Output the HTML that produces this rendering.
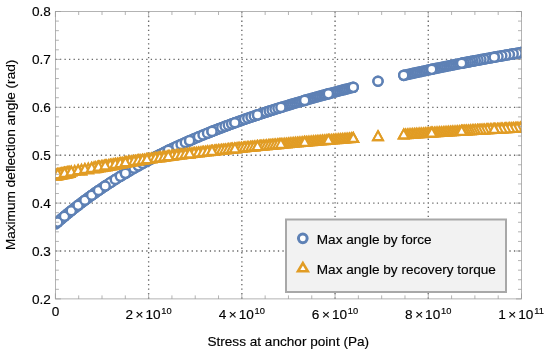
<!DOCTYPE html>
<html><head><meta charset="utf-8"><title>Maximum deflection angle vs stress</title>
<style>
html,body{margin:0;padding:0;background:#fff}
svg{display:block}
text{font-family:"Liberation Sans",Arial,Helvetica,sans-serif;font-size:13.6px;fill:#000;stroke:#000;stroke-width:0.15px}
</style></head>
<body>
<svg width="550" height="354" viewBox="0 0 550 354">
<rect width="550" height="354" fill="#fff"/>
<defs><clipPath id="c"><rect x="55.4" y="11.5" width="466.1" height="287.4"/></clipPath></defs>
<path d="M148.62 11.5V298.9M241.84 11.5V298.9M335.06 11.5V298.9M428.28 11.5V298.9M55.4 251.00H521.5M55.4 203.10H521.5M55.4 155.20H521.5M55.4 107.30H521.5M55.4 59.40H521.5" fill="none" stroke="#686868" stroke-width="1.35" stroke-dasharray="1.3 3.24"/>
<g clip-path="url(#c)">
<g fill="#fff" stroke="#5e81b5" stroke-width="2.45"><circle cx="55.40" cy="224.06" r="4.55"/><circle cx="57.20" cy="222.48" r="4.55"/><circle cx="59.00" cy="220.93" r="4.55"/><circle cx="60.80" cy="219.39" r="4.55"/><circle cx="62.60" cy="217.86" r="4.55"/><circle cx="64.40" cy="216.36" r="4.55"/><circle cx="66.20" cy="214.86" r="4.55"/><circle cx="68.00" cy="213.39" r="4.55"/><circle cx="69.80" cy="211.92" r="4.55"/><circle cx="71.60" cy="210.48" r="4.55"/><circle cx="73.40" cy="209.04" r="4.55"/><circle cx="75.20" cy="207.63" r="4.55"/><circle cx="77.00" cy="206.22" r="4.55"/><circle cx="78.80" cy="204.83" r="4.55"/><circle cx="80.60" cy="203.46" r="4.55"/><circle cx="82.40" cy="202.10" r="4.55"/><circle cx="84.20" cy="200.75" r="4.55"/><circle cx="86.00" cy="199.42" r="4.55"/><circle cx="87.80" cy="198.09" r="4.55"/><circle cx="89.60" cy="196.79" r="4.55"/><circle cx="91.40" cy="195.49" r="4.55"/><circle cx="93.20" cy="194.21" r="4.55"/><circle cx="95.00" cy="192.94" r="4.55"/><circle cx="96.80" cy="191.69" r="4.55"/><circle cx="98.60" cy="190.44" r="4.55"/><circle cx="100.40" cy="189.21" r="4.55"/><circle cx="102.20" cy="187.99" r="4.55"/><circle cx="104.00" cy="186.79" r="4.55"/><circle cx="105.80" cy="185.59" r="4.55"/><circle cx="107.60" cy="184.41" r="4.55"/><circle cx="109.40" cy="183.24" r="4.55"/><circle cx="111.20" cy="182.08" r="4.55"/><circle cx="113.00" cy="180.93" r="4.55"/><circle cx="114.80" cy="179.79" r="4.55"/><circle cx="116.60" cy="178.66" r="4.55"/><circle cx="118.40" cy="177.54" r="4.55"/><circle cx="120.20" cy="176.44" r="4.55"/><circle cx="122.00" cy="175.34" r="4.55"/><circle cx="123.80" cy="174.26" r="4.55"/><circle cx="125.60" cy="173.18" r="4.55"/><circle cx="127.40" cy="172.12" r="4.55"/><circle cx="129.20" cy="171.06" r="4.55"/><circle cx="131.00" cy="170.02" r="4.55"/><circle cx="132.80" cy="168.99" r="4.55"/><circle cx="134.60" cy="167.96" r="4.55"/><circle cx="136.40" cy="166.94" r="4.55"/><circle cx="138.20" cy="165.94" r="4.55"/><circle cx="140.00" cy="164.94" r="4.55"/><circle cx="141.80" cy="163.95" r="4.55"/><circle cx="143.60" cy="162.97" r="4.55"/><circle cx="145.40" cy="162.00" r="4.55"/><circle cx="147.20" cy="161.04" r="4.55"/><circle cx="149.00" cy="160.09" r="4.55"/><circle cx="150.80" cy="159.15" r="4.55"/><circle cx="152.60" cy="158.21" r="4.55"/><circle cx="154.40" cy="157.28" r="4.55"/><circle cx="156.20" cy="156.37" r="4.55"/><circle cx="158.00" cy="155.45" r="4.55"/><circle cx="159.80" cy="154.55" r="4.55"/><circle cx="161.60" cy="153.66" r="4.55"/><circle cx="163.40" cy="152.77" r="4.55"/><circle cx="165.20" cy="151.89" r="4.55"/><circle cx="167.00" cy="151.02" r="4.55"/><circle cx="168.80" cy="150.15" r="4.55"/><circle cx="170.60" cy="149.30" r="4.55"/><circle cx="172.40" cy="148.45" r="4.55"/><circle cx="174.20" cy="147.60" r="4.55"/><circle cx="176.00" cy="146.77" r="4.55"/><circle cx="177.80" cy="145.94" r="4.55"/><circle cx="179.60" cy="145.12" r="4.55"/><circle cx="181.40" cy="144.30" r="4.55"/><circle cx="183.20" cy="143.49" r="4.55"/><circle cx="185.00" cy="142.69" r="4.55"/><circle cx="186.80" cy="141.90" r="4.55"/><circle cx="188.60" cy="141.11" r="4.55"/><circle cx="190.40" cy="140.32" r="4.55"/><circle cx="192.20" cy="139.55" r="4.55"/><circle cx="194.00" cy="138.78" r="4.55"/><circle cx="195.80" cy="138.01" r="4.55"/><circle cx="197.60" cy="137.26" r="4.55"/><circle cx="199.40" cy="136.50" r="4.55"/><circle cx="201.20" cy="135.76" r="4.55"/><circle cx="203.00" cy="135.02" r="4.55"/><circle cx="204.80" cy="134.28" r="4.55"/><circle cx="206.60" cy="133.55" r="4.55"/><circle cx="208.40" cy="132.83" r="4.55"/><circle cx="210.20" cy="132.11" r="4.55"/><circle cx="212.00" cy="131.40" r="4.55"/><circle cx="213.80" cy="130.69" r="4.55"/><circle cx="215.60" cy="129.98" r="4.55"/><circle cx="217.40" cy="129.29" r="4.55"/><circle cx="219.20" cy="128.59" r="4.55"/><circle cx="221.00" cy="127.91" r="4.55"/><circle cx="222.80" cy="127.22" r="4.55"/><circle cx="224.60" cy="126.55" r="4.55"/><circle cx="226.40" cy="125.87" r="4.55"/><circle cx="228.20" cy="125.20" r="4.55"/><circle cx="230.00" cy="124.54" r="4.55"/><circle cx="231.80" cy="123.88" r="4.55"/><circle cx="233.60" cy="123.23" r="4.55"/><circle cx="235.40" cy="122.58" r="4.55"/><circle cx="237.20" cy="121.93" r="4.55"/><circle cx="239.00" cy="121.29" r="4.55"/><circle cx="240.80" cy="120.65" r="4.55"/><circle cx="242.60" cy="120.02" r="4.55"/><circle cx="244.40" cy="119.39" r="4.55"/><circle cx="246.20" cy="118.77" r="4.55"/><circle cx="248.00" cy="118.14" r="4.55"/><circle cx="249.80" cy="117.53" r="4.55"/><circle cx="251.60" cy="116.91" r="4.55"/><circle cx="253.40" cy="116.31" r="4.55"/><circle cx="255.20" cy="115.70" r="4.55"/><circle cx="257.00" cy="115.10" r="4.55"/><circle cx="258.80" cy="114.50" r="4.55"/><circle cx="260.60" cy="113.91" r="4.55"/><circle cx="262.40" cy="113.32" r="4.55"/><circle cx="264.20" cy="112.73" r="4.55"/><circle cx="266.00" cy="112.15" r="4.55"/><circle cx="267.80" cy="111.57" r="4.55"/><circle cx="269.60" cy="110.99" r="4.55"/><circle cx="271.40" cy="110.42" r="4.55"/><circle cx="273.20" cy="109.85" r="4.55"/><circle cx="275.00" cy="109.28" r="4.55"/><circle cx="276.80" cy="108.72" r="4.55"/><circle cx="278.60" cy="108.16" r="4.55"/><circle cx="280.40" cy="107.60" r="4.55"/><circle cx="282.20" cy="107.05" r="4.55"/><circle cx="284.00" cy="106.50" r="4.55"/><circle cx="285.80" cy="105.95" r="4.55"/><circle cx="287.60" cy="105.41" r="4.55"/><circle cx="289.40" cy="104.87" r="4.55"/><circle cx="291.20" cy="104.33" r="4.55"/><circle cx="293.00" cy="103.79" r="4.55"/><circle cx="294.80" cy="103.26" r="4.55"/><circle cx="296.60" cy="102.73" r="4.55"/><circle cx="298.40" cy="102.20" r="4.55"/><circle cx="300.20" cy="101.68" r="4.55"/><circle cx="302.00" cy="101.16" r="4.55"/><circle cx="303.80" cy="100.64" r="4.55"/><circle cx="305.60" cy="100.12" r="4.55"/><circle cx="307.40" cy="99.61" r="4.55"/><circle cx="309.20" cy="99.10" r="4.55"/><circle cx="311.00" cy="98.59" r="4.55"/><circle cx="312.80" cy="98.08" r="4.55"/><circle cx="314.60" cy="97.58" r="4.55"/><circle cx="316.40" cy="97.08" r="4.55"/><circle cx="318.20" cy="96.58" r="4.55"/><circle cx="320.00" cy="96.08" r="4.55"/><circle cx="321.80" cy="95.59" r="4.55"/><circle cx="323.60" cy="95.10" r="4.55"/><circle cx="325.40" cy="94.61" r="4.55"/><circle cx="327.20" cy="94.12" r="4.55"/><circle cx="329.00" cy="93.64" r="4.55"/><circle cx="330.80" cy="93.16" r="4.55"/><circle cx="332.60" cy="92.68" r="4.55"/><circle cx="334.40" cy="92.20" r="4.55"/><circle cx="336.20" cy="91.73" r="4.55"/><circle cx="338.00" cy="91.25" r="4.55"/><circle cx="339.80" cy="90.78" r="4.55"/><circle cx="341.60" cy="90.31" r="4.55"/><circle cx="343.40" cy="89.85" r="4.55"/><circle cx="345.20" cy="89.38" r="4.55"/><circle cx="347.00" cy="88.92" r="4.55"/><circle cx="348.80" cy="88.46" r="4.55"/><circle cx="350.60" cy="88.00" r="4.55"/><circle cx="352.40" cy="87.55" r="4.55"/><circle cx="403.70" cy="75.36" r="4.55"/><circle cx="405.50" cy="74.96" r="4.55"/><circle cx="407.30" cy="74.56" r="4.55"/><circle cx="409.10" cy="74.16" r="4.55"/><circle cx="410.90" cy="73.76" r="4.55"/><circle cx="412.70" cy="73.37" r="4.55"/><circle cx="414.50" cy="72.97" r="4.55"/><circle cx="416.30" cy="72.58" r="4.55"/><circle cx="418.10" cy="72.19" r="4.55"/><circle cx="419.90" cy="71.81" r="4.55"/><circle cx="421.70" cy="71.42" r="4.55"/><circle cx="423.50" cy="71.04" r="4.55"/><circle cx="425.30" cy="70.65" r="4.55"/><circle cx="427.10" cy="70.27" r="4.55"/><circle cx="428.90" cy="69.89" r="4.55"/><circle cx="430.70" cy="69.51" r="4.55"/><circle cx="432.50" cy="69.14" r="4.55"/><circle cx="434.30" cy="68.76" r="4.55"/><circle cx="436.10" cy="68.39" r="4.55"/><circle cx="437.90" cy="68.02" r="4.55"/><circle cx="439.70" cy="67.65" r="4.55"/><circle cx="441.50" cy="67.28" r="4.55"/><circle cx="443.30" cy="66.91" r="4.55"/><circle cx="445.10" cy="66.55" r="4.55"/><circle cx="446.90" cy="66.19" r="4.55"/><circle cx="448.70" cy="65.82" r="4.55"/><circle cx="450.50" cy="65.46" r="4.55"/><circle cx="452.30" cy="65.11" r="4.55"/><circle cx="454.10" cy="64.75" r="4.55"/><circle cx="455.90" cy="64.39" r="4.55"/><circle cx="457.70" cy="64.04" r="4.55"/><circle cx="459.50" cy="63.69" r="4.55"/><circle cx="461.30" cy="63.34" r="4.55"/><circle cx="463.10" cy="62.99" r="4.55"/><circle cx="464.90" cy="62.64" r="4.55"/><circle cx="466.70" cy="62.29" r="4.55"/><circle cx="468.50" cy="61.95" r="4.55"/><circle cx="470.30" cy="61.61" r="4.55"/><circle cx="472.10" cy="61.26" r="4.55"/><circle cx="473.90" cy="60.92" r="4.55"/><circle cx="475.70" cy="60.59" r="4.55"/><circle cx="477.50" cy="60.25" r="4.55"/><circle cx="479.30" cy="59.91" r="4.55"/><circle cx="481.10" cy="59.58" r="4.55"/><circle cx="482.90" cy="59.25" r="4.55"/><circle cx="484.70" cy="58.92" r="4.55"/><circle cx="486.50" cy="58.59" r="4.55"/><circle cx="488.30" cy="58.26" r="4.55"/><circle cx="490.10" cy="57.93" r="4.55"/><circle cx="491.90" cy="57.61" r="4.55"/><circle cx="493.70" cy="57.29" r="4.55"/><circle cx="495.50" cy="56.96" r="4.55"/><circle cx="497.30" cy="56.64" r="4.55"/><circle cx="499.10" cy="56.33" r="4.55"/><circle cx="500.90" cy="56.01" r="4.55"/><circle cx="502.70" cy="55.69" r="4.55"/><circle cx="504.50" cy="55.38" r="4.55"/><circle cx="506.30" cy="55.07" r="4.55"/><circle cx="508.10" cy="54.75" r="4.55"/><circle cx="509.90" cy="54.44" r="4.55"/><circle cx="511.70" cy="54.14" r="4.55"/><circle cx="513.50" cy="53.83" r="4.55"/><circle cx="515.30" cy="53.52" r="4.55"/><circle cx="517.10" cy="53.22" r="4.55"/><circle cx="518.90" cy="52.92" r="4.55"/><circle cx="520.70" cy="52.61" r="4.55"/><circle cx="522.50" cy="52.31" r="4.55"/><circle cx="524.30" cy="52.01" r="4.55"/><circle cx="57.70" cy="222.05" r="4.55"/><circle cx="61.10" cy="219.13" r="4.55"/><circle cx="64.50" cy="216.27" r="4.55"/><circle cx="67.90" cy="213.47" r="4.55"/><circle cx="71.30" cy="210.72" r="4.55"/><circle cx="74.70" cy="208.02" r="4.55"/><circle cx="78.10" cy="205.37" r="4.55"/><circle cx="81.50" cy="202.78" r="4.55"/><circle cx="84.90" cy="200.23" r="4.55"/><circle cx="88.30" cy="197.73" r="4.55"/><circle cx="91.70" cy="195.28" r="4.55"/><circle cx="95.10" cy="192.87" r="4.55"/><circle cx="98.50" cy="190.51" r="4.55"/><circle cx="101.85" cy="188.23" r="4.55"/><circle cx="105.20" cy="185.99" r="4.55"/><circle cx="110.25" cy="182.69" r="4.55"/><circle cx="115.30" cy="179.47" r="4.55"/><circle cx="120.35" cy="176.35" r="4.55"/><circle cx="125.40" cy="173.30" r="4.55"/><circle cx="129.72" cy="170.76" r="4.55"/><circle cx="134.04" cy="168.28" r="4.55"/><circle cx="138.36" cy="165.85" r="4.55"/><circle cx="142.68" cy="163.47" r="4.55"/><circle cx="147.00" cy="161.15" r="4.55"/><circle cx="151.26" cy="158.91" r="4.55"/><circle cx="155.52" cy="156.71" r="4.55"/><circle cx="159.78" cy="154.56" r="4.55"/><circle cx="164.04" cy="152.46" r="4.55"/><circle cx="168.30" cy="150.39" r="4.55"/><circle cx="172.56" cy="148.37" r="4.55"/><circle cx="176.82" cy="146.39" r="4.55"/><circle cx="181.08" cy="144.45" r="4.55"/><circle cx="185.34" cy="142.54" r="4.55"/><circle cx="189.60" cy="140.67" r="4.55"/><circle cx="194.08" cy="138.74" r="4.55"/><circle cx="198.56" cy="136.85" r="4.55"/><circle cx="203.04" cy="135.00" r="4.55"/><circle cx="207.52" cy="133.18" r="4.55"/><circle cx="212.00" cy="131.40" r="4.55"/><circle cx="215.27" cy="130.11" r="4.55"/><circle cx="218.54" cy="128.85" r="4.55"/><circle cx="221.81" cy="127.60" r="4.55"/><circle cx="225.09" cy="126.36" r="4.55"/><circle cx="228.36" cy="125.15" r="4.55"/><circle cx="231.63" cy="123.94" r="4.55"/><circle cx="234.90" cy="122.76" r="4.55"/><circle cx="238.13" cy="121.60" r="4.55"/><circle cx="241.36" cy="120.46" r="4.55"/><circle cx="244.59" cy="119.33" r="4.55"/><circle cx="247.81" cy="118.21" r="4.55"/><circle cx="251.04" cy="117.10" r="4.55"/><circle cx="254.27" cy="116.01" r="4.55"/><circle cx="257.50" cy="114.93" r="4.55"/><circle cx="260.43" cy="113.97" r="4.55"/><circle cx="263.35" cy="113.01" r="4.55"/><circle cx="266.27" cy="112.06" r="4.55"/><circle cx="269.20" cy="111.12" r="4.55"/><circle cx="272.12" cy="110.19" r="4.55"/><circle cx="275.05" cy="109.27" r="4.55"/><circle cx="277.97" cy="108.35" r="4.55"/><circle cx="353.30" cy="87.32" r="4.55"/><circle cx="378.00" cy="81.28" r="4.55"/><circle cx="524.60" cy="51.97" r="4.55"/><circle cx="520.80" cy="52.60" r="4.55"/><circle cx="517.00" cy="53.24" r="4.55"/><circle cx="513.20" cy="53.88" r="4.55"/><circle cx="509.40" cy="54.53" r="4.55"/><circle cx="505.60" cy="55.19" r="4.55"/><circle cx="501.80" cy="55.85" r="4.55"/><circle cx="498.00" cy="56.52" r="4.55"/><circle cx="494.20" cy="57.20" r="4.55"/><circle cx="490.70" cy="57.83" r="4.55"/><circle cx="487.30" cy="58.44" r="4.55"/><circle cx="484.00" cy="59.05" r="4.55"/><circle cx="480.90" cy="59.62" r="4.55"/><circle cx="478.00" cy="60.16" r="4.55"/><circle cx="475.30" cy="60.66" r="4.55"/><circle cx="472.80" cy="61.13" r="4.55"/><circle cx="470.50" cy="61.57" r="4.55"/><circle cx="468.30" cy="61.99" r="4.55"/><circle cx="466.20" cy="62.39" r="4.55"/><circle cx="464.20" cy="62.77" r="4.55"/><circle cx="462.30" cy="63.14" r="4.55"/><circle cx="57.70" cy="222.05" r="4.55"/><circle cx="64.50" cy="216.27" r="4.55"/><circle cx="71.30" cy="210.72" r="4.55"/><circle cx="78.10" cy="205.37" r="4.55"/><circle cx="84.90" cy="200.23" r="4.55"/><circle cx="91.70" cy="195.28" r="4.55"/><circle cx="98.50" cy="190.51" r="4.55"/><circle cx="105.20" cy="185.99" r="4.55"/><circle cx="125.40" cy="173.30" r="4.55"/><circle cx="147.00" cy="161.15" r="4.55"/><circle cx="168.30" cy="150.39" r="4.55"/><circle cx="189.60" cy="140.67" r="4.55"/><circle cx="212.00" cy="131.40" r="4.55"/><circle cx="234.90" cy="122.76" r="4.55"/><circle cx="257.50" cy="114.93" r="4.55"/><circle cx="280.90" cy="107.45" r="4.55"/><circle cx="304.70" cy="100.38" r="4.55"/><circle cx="328.40" cy="93.80" r="4.55"/><circle cx="353.30" cy="87.32" r="4.55"/><circle cx="378.00" cy="81.28" r="4.55"/><circle cx="494.20" cy="57.20" r="4.55"/><circle cx="461.60" cy="63.28" r="4.55"/><circle cx="431.70" cy="69.31" r="4.55"/><circle cx="403.70" cy="75.36" r="4.55"/></g>
<g fill="#fff" stroke="#e19c24" stroke-width="2.1" stroke-linejoin="miter"><path d="M55.40 170.97L60.23 179.72L50.57 179.72Z"/><path d="M56.30 170.78L61.13 179.53L51.47 179.53Z"/><path d="M57.20 170.60L62.03 179.35L52.37 179.35Z"/><path d="M58.10 170.42L62.93 179.17L53.27 179.17Z"/><path d="M59.00 170.24L63.83 178.99L54.17 178.99Z"/><path d="M59.90 170.06L64.73 178.81L55.07 178.81Z"/><path d="M60.80 169.89L65.63 178.64L55.97 178.64Z"/><path d="M61.70 169.71L66.53 178.46L56.87 178.46Z"/><path d="M62.60 169.53L67.43 178.28L57.77 178.28Z"/><path d="M63.50 169.35L68.33 178.10L58.67 178.10Z"/><path d="M64.40 169.18L69.23 177.93L59.57 177.93Z"/><path d="M65.30 169.00L70.13 177.75L60.47 177.75Z"/><path d="M66.20 168.83L71.03 177.58L61.37 177.58Z"/><path d="M67.10 168.65L71.93 177.40L62.27 177.40Z"/><path d="M68.00 168.48L72.83 177.23L63.17 177.23Z"/><path d="M68.90 168.31L73.73 177.06L64.07 177.06Z"/><path d="M69.80 168.14L74.63 176.89L64.97 176.89Z"/><path d="M81.50 165.95L86.33 174.70L76.67 174.70Z"/><path d="M88.30 164.73L93.13 173.48L83.47 173.48Z"/><path d="M94.00 163.73L98.83 172.48L89.17 172.48Z"/><path d="M95.80 163.42L100.63 172.17L90.97 172.17Z"/><path d="M97.60 163.11L102.43 171.86L92.77 171.86Z"/><path d="M99.40 162.80L104.23 171.55L94.57 171.55Z"/><path d="M101.20 162.50L106.03 171.25L96.37 171.25Z"/><path d="M103.00 162.20L107.83 170.95L98.17 170.95Z"/><path d="M104.80 161.90L109.63 170.65L99.97 170.65Z"/><path d="M106.60 161.60L111.43 170.35L101.77 170.35Z"/><path d="M108.40 161.30L113.23 170.05L103.57 170.05Z"/><path d="M110.20 161.00L115.03 169.75L105.37 169.75Z"/><path d="M112.00 160.63L116.83 169.38L107.17 169.38Z"/><path d="M113.80 160.27L118.63 169.02L108.97 169.02Z"/><path d="M115.60 159.91L120.43 168.66L110.77 168.66Z"/><path d="M117.40 159.55L122.23 168.30L112.57 168.30Z"/><path d="M119.20 159.20L124.03 167.95L114.37 167.95Z"/><path d="M121.00 158.84L125.83 167.59L116.17 167.59Z"/><path d="M122.80 158.49L127.63 167.24L117.97 167.24Z"/><path d="M124.60 158.14L129.43 166.89L119.77 166.89Z"/><path d="M126.40 157.79L131.23 166.54L121.57 166.54Z"/><path d="M128.20 157.44L133.03 166.19L123.37 166.19Z"/><path d="M130.00 157.10L134.83 165.85L125.17 165.85Z"/><path d="M131.80 156.76L136.63 165.51L126.97 165.51Z"/><path d="M133.60 156.42L138.43 165.17L128.77 165.17Z"/><path d="M135.40 156.08L140.23 164.83L130.57 164.83Z"/><path d="M137.20 155.74L142.03 164.49L132.37 164.49Z"/><path d="M139.00 155.40L143.83 164.15L134.17 164.15Z"/><path d="M140.80 155.10L145.63 163.85L135.97 163.85Z"/><path d="M142.60 154.84L147.43 163.59L137.77 163.59Z"/><path d="M144.40 154.58L149.23 163.33L139.57 163.33Z"/><path d="M146.20 154.33L151.03 163.08L141.37 163.08Z"/><path d="M148.00 154.07L152.83 162.82L143.17 162.82Z"/><path d="M149.80 153.82L154.63 162.57L144.97 162.57Z"/><path d="M151.60 153.57L156.43 162.32L146.77 162.32Z"/><path d="M153.40 153.32L158.23 162.07L148.57 162.07Z"/><path d="M155.20 153.07L160.03 161.82L150.37 161.82Z"/><path d="M157.00 152.82L161.83 161.57L152.17 161.57Z"/><path d="M158.80 152.58L163.63 161.33L153.97 161.33Z"/><path d="M160.60 152.34L165.43 161.09L155.77 161.09Z"/><path d="M162.40 152.09L167.23 160.84L157.57 160.84Z"/><path d="M164.20 151.85L169.03 160.60L159.37 160.60Z"/><path d="M166.00 151.62L170.83 160.37L161.17 160.37Z"/><path d="M167.80 151.38L172.63 160.13L162.97 160.13Z"/><path d="M169.60 151.14L174.43 159.89L164.77 159.89Z"/><path d="M171.40 150.91L176.23 159.66L166.57 159.66Z"/><path d="M173.20 150.68L178.03 159.43L168.37 159.43Z"/><path d="M175.00 150.45L179.83 159.20L170.17 159.20Z"/><path d="M176.80 150.22L181.63 158.97L171.97 158.97Z"/><path d="M178.60 149.99L183.43 158.74L173.77 158.74Z"/><path d="M180.40 149.76L185.23 158.51L175.57 158.51Z"/><path d="M182.20 149.54L187.03 158.29L177.37 158.29Z"/><path d="M184.00 149.32L188.83 158.07L179.17 158.07Z"/><path d="M185.80 149.09L190.63 157.84L180.97 157.84Z"/><path d="M187.60 148.87L192.43 157.62L182.77 157.62Z"/><path d="M189.40 148.66L194.23 157.41L184.57 157.41Z"/><path d="M191.20 148.44L196.03 157.19L186.37 157.19Z"/><path d="M193.00 148.22L197.83 156.97L188.17 156.97Z"/><path d="M194.80 148.01L199.63 156.76L189.97 156.76Z"/><path d="M196.60 147.79L201.43 156.54L191.77 156.54Z"/><path d="M198.40 147.58L203.23 156.33L193.57 156.33Z"/><path d="M200.20 147.37L205.03 156.12L195.37 156.12Z"/><path d="M202.00 147.16L206.83 155.91L197.17 155.91Z"/><path d="M203.80 146.95L208.63 155.70L198.97 155.70Z"/><path d="M205.60 146.74L210.43 155.49L200.77 155.49Z"/><path d="M207.40 146.54L212.23 155.29L202.57 155.29Z"/><path d="M209.20 146.33L214.03 155.08L204.37 155.08Z"/><path d="M211.00 146.13L215.83 154.88L206.17 154.88Z"/><path d="M212.80 145.93L217.63 154.68L207.97 154.68Z"/><path d="M214.60 145.73L219.43 154.48L209.77 154.48Z"/><path d="M216.40 145.53L221.23 154.28L211.57 154.28Z"/><path d="M218.20 145.33L223.03 154.08L213.37 154.08Z"/><path d="M220.00 145.13L224.83 153.88L215.17 153.88Z"/><path d="M221.80 144.94L226.63 153.69L216.97 153.69Z"/><path d="M223.60 144.74L228.43 153.49L218.77 153.49Z"/><path d="M225.40 144.55L230.23 153.30L220.57 153.30Z"/><path d="M227.20 144.36L232.03 153.11L222.37 153.11Z"/><path d="M229.00 144.16L233.83 152.91L224.17 152.91Z"/><path d="M230.80 143.97L235.63 152.72L225.97 152.72Z"/><path d="M232.60 143.79L237.43 152.54L227.77 152.54Z"/><path d="M234.40 143.60L239.23 152.35L229.57 152.35Z"/><path d="M236.20 143.41L241.03 152.16L231.37 152.16Z"/><path d="M238.00 143.22L242.83 151.97L233.17 151.97Z"/><path d="M239.80 143.04L244.63 151.79L234.97 151.79Z"/><path d="M241.60 142.86L246.43 151.61L236.77 151.61Z"/><path d="M243.40 142.67L248.23 151.42L238.57 151.42Z"/><path d="M245.20 142.49L250.03 151.24L240.37 151.24Z"/><path d="M247.00 142.31L251.83 151.06L242.17 151.06Z"/><path d="M248.80 142.13L253.63 150.88L243.97 150.88Z"/><path d="M250.60 141.95L255.43 150.70L245.77 150.70Z"/><path d="M252.40 141.78L257.23 150.53L247.57 150.53Z"/><path d="M254.20 141.60L259.03 150.35L249.37 150.35Z"/><path d="M256.00 141.42L260.83 150.17L251.17 150.17Z"/><path d="M257.80 141.25L262.63 150.00L252.97 150.00Z"/><path d="M259.60 141.07L264.43 149.82L254.77 149.82Z"/><path d="M261.40 140.90L266.23 149.65L256.57 149.65Z"/><path d="M263.20 140.73L268.03 149.48L258.37 149.48Z"/><path d="M265.00 140.56L269.83 149.31L260.17 149.31Z"/><path d="M266.80 140.39L271.63 149.14L261.97 149.14Z"/><path d="M268.60 140.22L273.43 148.97L263.77 148.97Z"/><path d="M270.40 140.05L275.23 148.80L265.57 148.80Z"/><path d="M272.20 139.88L277.03 148.63L267.37 148.63Z"/><path d="M274.00 139.72L278.83 148.47L269.17 148.47Z"/><path d="M275.80 139.55L280.63 148.30L270.97 148.30Z"/><path d="M277.60 139.39L282.43 148.14L272.77 148.14Z"/><path d="M279.40 139.22L284.23 147.97L274.57 147.97Z"/><path d="M281.20 139.06L286.03 147.81L276.37 147.81Z"/><path d="M283.00 138.90L287.83 147.65L278.17 147.65Z"/><path d="M284.80 138.74L289.63 147.49L279.97 147.49Z"/><path d="M286.60 138.58L291.43 147.33L281.77 147.33Z"/><path d="M288.40 138.42L293.23 147.17L283.57 147.17Z"/><path d="M290.20 138.26L295.03 147.01L285.37 147.01Z"/><path d="M292.00 138.10L296.83 146.85L287.17 146.85Z"/><path d="M293.80 137.94L298.63 146.69L288.97 146.69Z"/><path d="M295.60 137.79L300.43 146.54L290.77 146.54Z"/><path d="M297.40 137.63L302.23 146.38L292.57 146.38Z"/><path d="M299.20 137.48L304.03 146.23L294.37 146.23Z"/><path d="M301.00 137.32L305.83 146.07L296.17 146.07Z"/><path d="M302.80 137.17L307.63 145.92L297.97 145.92Z"/><path d="M304.60 137.02L309.43 145.77L299.77 145.77Z"/><path d="M306.40 136.87L311.23 145.62L301.57 145.62Z"/><path d="M308.20 136.71L313.03 145.46L303.37 145.46Z"/><path d="M310.00 136.56L314.83 145.31L305.17 145.31Z"/><path d="M311.80 136.41L316.63 145.16L306.97 145.16Z"/><path d="M313.60 136.27L318.43 145.02L308.77 145.02Z"/><path d="M315.40 136.12L320.23 144.87L310.57 144.87Z"/><path d="M317.20 135.97L322.03 144.72L312.37 144.72Z"/><path d="M319.00 135.82L323.83 144.57L314.17 144.57Z"/><path d="M320.80 135.68L325.63 144.43L315.97 144.43Z"/><path d="M322.60 135.53L327.43 144.28L317.77 144.28Z"/><path d="M324.40 135.39L329.23 144.14L319.57 144.14Z"/><path d="M326.20 135.24L331.03 143.99L321.37 143.99Z"/><path d="M328.00 135.10L332.83 143.85L323.17 143.85Z"/><path d="M329.80 134.96L334.63 143.71L324.97 143.71Z"/><path d="M331.60 134.81L336.43 143.56L326.77 143.56Z"/><path d="M333.40 134.67L338.23 143.42L328.57 143.42Z"/><path d="M335.20 134.53L340.03 143.28L330.37 143.28Z"/><path d="M337.00 134.39L341.83 143.14L332.17 143.14Z"/><path d="M338.80 134.25L343.63 143.00L333.97 143.00Z"/><path d="M340.60 134.11L345.43 142.86L335.77 142.86Z"/><path d="M342.40 133.97L347.23 142.72L337.57 142.72Z"/><path d="M344.20 133.84L349.03 142.59L339.37 142.59Z"/><path d="M346.00 133.70L350.83 142.45L341.17 142.45Z"/><path d="M347.80 133.56L352.63 142.31L342.97 142.31Z"/><path d="M349.60 133.43L354.43 142.18L344.77 142.18Z"/><path d="M351.40 133.29L356.23 142.04L346.57 142.04Z"/><path d="M353.20 133.15L358.03 141.90L348.37 141.90Z"/><path d="M403.70 129.59L408.53 138.34L398.87 138.34Z"/><path d="M405.50 129.47L410.33 138.22L400.67 138.22Z"/><path d="M407.30 129.35L412.13 138.10L402.47 138.10Z"/><path d="M409.10 129.23L413.93 137.98L404.27 137.98Z"/><path d="M410.90 129.11L415.73 137.86L406.07 137.86Z"/><path d="M412.70 128.99L417.53 137.74L407.87 137.74Z"/><path d="M414.50 128.88L419.33 137.63L409.67 137.63Z"/><path d="M416.30 128.76L421.13 137.51L411.47 137.51Z"/><path d="M418.10 128.64L422.93 137.39L413.27 137.39Z"/><path d="M419.90 128.53L424.73 137.28L415.07 137.28Z"/><path d="M421.70 128.41L426.53 137.16L416.87 137.16Z"/><path d="M423.50 128.30L428.33 137.05L418.67 137.05Z"/><path d="M425.30 128.18L430.13 136.93L420.47 136.93Z"/><path d="M427.10 128.07L431.93 136.82L422.27 136.82Z"/><path d="M428.90 127.95L433.73 136.70L424.07 136.70Z"/><path d="M430.70 127.84L435.53 136.59L425.87 136.59Z"/><path d="M432.50 127.73L437.33 136.48L427.67 136.48Z"/><path d="M434.30 127.61L439.13 136.36L429.47 136.36Z"/><path d="M436.10 127.50L440.93 136.25L431.27 136.25Z"/><path d="M437.90 127.39L442.73 136.14L433.07 136.14Z"/><path d="M439.70 127.28L444.53 136.03L434.87 136.03Z"/><path d="M441.50 127.17L446.33 135.92L436.67 135.92Z"/><path d="M443.30 127.06L448.13 135.81L438.47 135.81Z"/><path d="M445.10 126.95L449.93 135.70L440.27 135.70Z"/><path d="M446.90 126.84L451.73 135.59L442.07 135.59Z"/><path d="M448.70 126.73L453.53 135.48L443.87 135.48Z"/><path d="M450.50 126.62L455.33 135.37L445.67 135.37Z"/><path d="M452.30 126.51L457.13 135.26L447.47 135.26Z"/><path d="M454.10 126.40L458.93 135.15L449.27 135.15Z"/><path d="M455.90 126.30L460.73 135.05L451.07 135.05Z"/><path d="M457.70 126.19L462.53 134.94L452.87 134.94Z"/><path d="M459.50 126.08L464.33 134.83L454.67 134.83Z"/><path d="M461.30 125.98L466.13 134.73L456.47 134.73Z"/><path d="M463.10 125.87L467.93 134.62L458.27 134.62Z"/><path d="M464.90 125.77L469.73 134.52L460.07 134.52Z"/><path d="M466.70 125.66L471.53 134.41L461.87 134.41Z"/><path d="M468.50 125.56L473.33 134.31L463.67 134.31Z"/><path d="M470.30 125.46L475.13 134.21L465.47 134.21Z"/><path d="M472.10 125.35L476.93 134.10L467.27 134.10Z"/><path d="M473.90 125.25L478.73 134.00L469.07 134.00Z"/><path d="M475.70 125.15L480.53 133.90L470.87 133.90Z"/><path d="M477.50 125.04L482.33 133.79L472.67 133.79Z"/><path d="M479.30 124.94L484.13 133.69L474.47 133.69Z"/><path d="M481.10 124.84L485.93 133.59L476.27 133.59Z"/><path d="M482.90 124.74L487.73 133.49L478.07 133.49Z"/><path d="M484.70 124.64L489.53 133.39L479.87 133.39Z"/><path d="M486.50 124.54L491.33 133.29L481.67 133.29Z"/><path d="M488.30 124.44L493.13 133.19L483.47 133.19Z"/><path d="M490.10 124.34L494.93 133.09L485.27 133.09Z"/><path d="M491.90 124.25L496.73 133.00L487.07 133.00Z"/><path d="M493.70 124.15L498.53 132.90L488.87 132.90Z"/><path d="M495.50 124.05L500.33 132.80L490.67 132.80Z"/><path d="M497.30 123.95L502.13 132.70L492.47 132.70Z"/><path d="M499.10 123.86L503.93 132.61L494.27 132.61Z"/><path d="M500.90 123.76L505.73 132.51L496.07 132.51Z"/><path d="M502.70 123.67L507.53 132.42L497.87 132.42Z"/><path d="M504.50 123.57L509.33 132.32L499.67 132.32Z"/><path d="M506.30 123.48L511.13 132.23L501.47 132.23Z"/><path d="M508.10 123.38L512.93 132.13L503.27 132.13Z"/><path d="M509.90 123.29L514.73 132.04L505.07 132.04Z"/><path d="M511.70 123.19L516.53 131.94L506.87 131.94Z"/><path d="M513.50 123.10L518.33 131.85L508.67 131.85Z"/><path d="M515.30 123.01L520.13 131.76L510.47 131.76Z"/><path d="M517.10 122.92L521.93 131.67L512.27 131.67Z"/><path d="M518.90 122.83L523.73 131.58L514.07 131.58Z"/><path d="M520.70 122.74L525.53 131.49L515.87 131.49Z"/><path d="M522.50 122.65L527.33 131.40L517.67 131.40Z"/><path d="M524.30 122.56L529.13 131.31L519.47 131.31Z"/><path d="M55.40 169.77L60.23 178.52L50.57 178.52Z"/><path d="M56.30 169.58L61.13 178.33L51.47 178.33Z"/><path d="M57.20 169.40L62.03 178.15L52.37 178.15Z"/><path d="M58.10 169.22L62.93 177.97L53.27 177.97Z"/><path d="M59.00 169.04L63.83 177.79L54.17 177.79Z"/><path d="M59.90 168.86L64.73 177.61L55.07 177.61Z"/><path d="M60.80 168.69L65.63 177.44L55.97 177.44Z"/><path d="M61.70 168.51L66.53 177.26L56.87 177.26Z"/><path d="M62.60 168.33L67.43 177.08L57.77 177.08Z"/><path d="M63.50 168.15L68.33 176.90L58.67 176.90Z"/><path d="M64.40 167.98L69.23 176.73L59.57 176.73Z"/><path d="M65.30 167.80L70.13 176.55L60.47 176.55Z"/><path d="M66.20 167.63L71.03 176.38L61.37 176.38Z"/><path d="M67.10 167.45L71.93 176.20L62.27 176.20Z"/><path d="M68.00 167.28L72.83 176.03L63.17 176.03Z"/><path d="M68.90 167.11L73.73 175.86L64.07 175.86Z"/><path d="M69.80 166.94L74.63 175.69L64.97 175.69Z"/><path d="M94.00 162.53L98.83 171.28L89.17 171.28Z"/><path d="M95.80 162.22L100.63 170.97L90.97 170.97Z"/><path d="M97.60 161.91L102.43 170.66L92.77 170.66Z"/><path d="M99.40 161.60L104.23 170.35L94.57 170.35Z"/><path d="M101.20 161.30L106.03 170.05L96.37 170.05Z"/><path d="M103.00 161.00L107.83 169.75L98.17 169.75Z"/><path d="M104.80 160.70L109.63 169.45L99.97 169.45Z"/><path d="M106.60 160.40L111.43 169.15L101.77 169.15Z"/><path d="M108.40 160.10L113.23 168.85L103.57 168.85Z"/><path d="M110.20 159.81L115.03 168.56L105.37 168.56Z"/><path d="M112.00 159.51L116.83 168.26L107.17 168.26Z"/><path d="M113.80 159.22L118.63 167.97L108.97 167.97Z"/><path d="M115.60 158.94L120.43 167.69L110.77 167.69Z"/><path d="M117.40 158.65L122.23 167.40L112.57 167.40Z"/><path d="M119.20 158.36L124.03 167.11L114.37 167.11Z"/><path d="M121.00 158.08L125.83 166.83L116.17 166.83Z"/><path d="M122.80 157.80L127.63 166.55L117.97 166.55Z"/><path d="M124.60 157.52L129.43 166.27L119.77 166.27Z"/><path d="M126.40 157.25L131.23 166.00L121.57 166.00Z"/><path d="M128.20 156.97L133.03 165.72L123.37 165.72Z"/><path d="M130.00 156.70L134.83 165.45L125.17 165.45Z"/><path d="M131.80 156.43L136.63 165.18L126.97 165.18Z"/><path d="M133.60 156.16L138.43 164.91L128.77 164.91Z"/><path d="M135.40 155.89L140.23 164.64L130.57 164.64Z"/><path d="M137.20 155.63L142.03 164.38L132.37 164.38Z"/><path d="M139.00 155.36L143.83 164.11L134.17 164.11Z"/><path d="M57.70 169.30L62.53 178.05L52.87 178.05Z"/><path d="M61.10 168.63L65.93 177.38L56.27 177.38Z"/><path d="M64.50 167.96L69.33 176.71L59.67 176.71Z"/><path d="M67.90 167.30L72.73 176.05L63.07 176.05Z"/><path d="M71.30 166.65L76.13 175.40L66.47 175.40Z"/><path d="M74.70 166.01L79.53 174.76L69.87 174.76Z"/><path d="M78.10 165.38L82.93 174.13L73.27 174.13Z"/><path d="M81.50 164.75L86.33 173.50L76.67 173.50Z"/><path d="M84.90 164.14L89.73 172.89L80.07 172.89Z"/><path d="M88.30 163.53L93.13 172.28L83.47 172.28Z"/><path d="M91.70 162.93L96.53 171.68L86.87 171.68Z"/><path d="M95.10 162.34L99.93 171.09L90.27 171.09Z"/><path d="M98.50 161.76L103.33 170.51L93.67 170.51Z"/><path d="M101.85 161.19L106.68 169.94L97.02 169.94Z"/><path d="M105.20 160.63L110.03 169.38L100.37 169.38Z"/><path d="M110.25 159.80L115.08 168.55L105.42 168.55Z"/><path d="M115.30 158.98L120.13 167.73L110.47 167.73Z"/><path d="M120.35 158.18L125.18 166.93L115.52 166.93Z"/><path d="M125.40 157.40L130.23 166.15L120.57 166.15Z"/><path d="M129.72 156.74L134.55 165.49L124.89 165.49Z"/><path d="M134.04 156.09L138.87 164.84L129.21 164.84Z"/><path d="M138.36 155.46L143.19 164.21L133.53 164.21Z"/><path d="M142.68 154.83L147.51 163.58L137.85 163.58Z"/><path d="M147.00 154.21L151.83 162.96L142.17 162.96Z"/><path d="M151.26 153.62L156.09 162.37L146.43 162.37Z"/><path d="M155.52 153.03L160.35 161.78L150.69 161.78Z"/><path d="M159.78 152.45L164.61 161.20L154.95 161.20Z"/><path d="M164.04 151.88L168.87 160.63L159.21 160.63Z"/><path d="M168.30 151.31L173.13 160.06L163.47 160.06Z"/><path d="M172.56 150.76L177.39 159.51L167.73 159.51Z"/><path d="M176.82 150.22L181.65 158.97L171.99 158.97Z"/><path d="M181.08 149.68L185.91 158.43L176.25 158.43Z"/><path d="M185.34 149.15L190.17 157.90L180.51 157.90Z"/><path d="M189.60 148.63L194.43 157.38L184.77 157.38Z"/><path d="M194.08 148.09L198.91 156.84L189.25 156.84Z"/><path d="M198.56 147.56L203.39 156.31L193.73 156.31Z"/><path d="M203.04 147.04L207.87 155.79L198.21 155.79Z"/><path d="M207.52 146.53L212.35 155.28L202.69 155.28Z"/><path d="M212.00 146.02L216.83 154.77L207.17 154.77Z"/><path d="M215.27 145.65L220.10 154.40L210.44 154.40Z"/><path d="M218.54 145.29L223.37 154.04L213.71 154.04Z"/><path d="M221.81 144.94L226.64 153.69L216.98 153.69Z"/><path d="M225.09 144.58L229.92 153.33L220.26 153.33Z"/><path d="M228.36 144.23L233.19 152.98L223.53 152.98Z"/><path d="M231.63 143.89L236.46 152.64L226.80 152.64Z"/><path d="M234.90 143.55L239.73 152.30L230.07 152.30Z"/><path d="M238.13 143.21L242.96 151.96L233.30 151.96Z"/><path d="M241.36 142.88L246.19 151.63L236.53 151.63Z"/><path d="M244.59 142.55L249.42 151.30L239.76 151.30Z"/><path d="M247.81 142.23L252.64 150.98L242.98 150.98Z"/><path d="M251.04 141.91L255.87 150.66L246.21 150.66Z"/><path d="M254.27 141.59L259.10 150.34L249.44 150.34Z"/><path d="M257.50 141.28L262.33 150.03L252.67 150.03Z"/><path d="M260.43 141.00L265.25 149.75L255.59 149.75Z"/><path d="M263.35 140.72L268.18 149.47L258.52 149.47Z"/><path d="M266.27 140.44L271.10 149.19L261.44 149.19Z"/><path d="M269.20 140.16L274.03 148.91L264.37 148.91Z"/><path d="M272.12 139.89L276.95 148.64L267.30 148.64Z"/><path d="M275.05 139.62L279.88 148.37L270.22 148.37Z"/><path d="M277.97 139.35L282.80 148.10L273.14 148.10Z"/><path d="M353.30 133.15L358.13 141.90L348.47 141.90Z"/><path d="M378.00 131.35L382.83 140.10L373.17 140.10Z"/><path d="M524.60 122.54L529.43 131.29L519.77 131.29Z"/><path d="M520.80 122.73L525.63 131.48L515.97 131.48Z"/><path d="M517.00 122.92L521.83 131.67L512.17 131.67Z"/><path d="M513.20 123.12L518.03 131.87L508.37 131.87Z"/><path d="M509.40 123.31L514.23 132.06L504.57 132.06Z"/><path d="M505.60 123.51L510.43 132.26L500.77 132.26Z"/><path d="M501.80 123.71L506.63 132.46L496.97 132.46Z"/><path d="M498.00 123.92L502.83 132.67L493.17 132.67Z"/><path d="M494.20 124.12L499.03 132.87L489.37 132.87Z"/><path d="M490.70 124.31L495.53 133.06L485.87 133.06Z"/><path d="M487.30 124.50L492.13 133.25L482.47 133.25Z"/><path d="M484.00 124.68L488.83 133.43L479.17 133.43Z"/><path d="M480.90 124.85L485.73 133.60L476.07 133.60Z"/><path d="M478.00 125.02L482.83 133.77L473.17 133.77Z"/><path d="M475.30 125.17L480.13 133.92L470.47 133.92Z"/><path d="M472.80 125.31L477.63 134.06L467.97 134.06Z"/><path d="M470.50 125.44L475.33 134.19L465.67 134.19Z"/><path d="M468.30 125.57L473.13 134.32L463.47 134.32Z"/><path d="M466.20 125.69L471.03 134.44L461.37 134.44Z"/><path d="M464.20 125.81L469.03 134.56L459.37 134.56Z"/><path d="M462.30 125.92L467.13 134.67L457.47 134.67Z"/><path d="M57.70 169.30L62.53 178.05L52.87 178.05Z"/><path d="M64.50 167.96L69.33 176.71L59.67 176.71Z"/><path d="M71.30 166.65L76.13 175.40L66.47 175.40Z"/><path d="M78.10 165.38L82.93 174.13L73.27 174.13Z"/><path d="M84.90 164.14L89.73 172.89L80.07 172.89Z"/><path d="M91.70 162.93L96.53 171.68L86.87 171.68Z"/><path d="M98.50 161.76L103.33 170.51L93.67 170.51Z"/><path d="M105.20 160.63L110.03 169.38L100.37 169.38Z"/><path d="M125.40 157.40L130.23 166.15L120.57 166.15Z"/><path d="M147.00 154.21L151.83 162.96L142.17 162.96Z"/><path d="M168.30 151.31L173.13 160.06L163.47 160.06Z"/><path d="M189.60 148.63L194.43 157.38L184.77 157.38Z"/><path d="M212.00 146.02L216.83 154.77L207.17 154.77Z"/><path d="M234.90 143.55L239.73 152.30L230.07 152.30Z"/><path d="M257.50 141.28L262.33 150.03L252.67 150.03Z"/><path d="M280.90 139.09L285.73 147.84L276.07 147.84Z"/><path d="M304.70 137.01L309.53 145.76L299.87 145.76Z"/><path d="M328.40 135.07L333.23 143.82L323.57 143.82Z"/><path d="M353.30 133.15L358.13 141.90L348.47 141.90Z"/><path d="M378.00 131.35L382.83 140.10L373.17 140.10Z"/><path d="M494.20 124.12L499.03 132.87L489.37 132.87Z"/><path d="M461.60 125.96L466.43 134.71L456.77 134.71Z"/><path d="M431.70 127.78L436.53 136.53L426.87 136.53Z"/><path d="M403.70 129.59L408.53 138.34L398.87 138.34Z"/></g>
</g>
<path d="M55.40 298.9v-5.5M55.40 11.5v5.5M78.70 298.9v-3.5M78.70 11.5v3.5M102.01 298.9v-3.5M102.01 11.5v3.5M125.31 298.9v-3.5M125.31 11.5v3.5M148.62 298.9v-5.5M148.62 11.5v5.5M171.93 298.9v-3.5M171.93 11.5v3.5M195.23 298.9v-3.5M195.23 11.5v3.5M218.54 298.9v-3.5M218.54 11.5v3.5M241.84 298.9v-5.5M241.84 11.5v5.5M265.15 298.9v-3.5M265.15 11.5v3.5M288.45 298.9v-3.5M288.45 11.5v3.5M311.75 298.9v-3.5M311.75 11.5v3.5M335.06 298.9v-5.5M335.06 11.5v5.5M358.37 298.9v-3.5M358.37 11.5v3.5M381.67 298.9v-3.5M381.67 11.5v3.5M404.97 298.9v-3.5M404.97 11.5v3.5M428.28 298.9v-5.5M428.28 11.5v5.5M451.59 298.9v-3.5M451.59 11.5v3.5M474.89 298.9v-3.5M474.89 11.5v3.5M498.19 298.9v-3.5M498.19 11.5v3.5M521.50 298.9v-5.5M521.50 11.5v5.5M55.4 298.90h5.5M521.5 298.90h-5.5M55.4 289.32h3.5M521.5 289.32h-3.5M55.4 279.74h3.5M521.5 279.74h-3.5M55.4 270.16h3.5M521.5 270.16h-3.5M55.4 260.58h3.5M521.5 260.58h-3.5M55.4 251.00h5.5M521.5 251.00h-5.5M55.4 241.42h3.5M521.5 241.42h-3.5M55.4 231.84h3.5M521.5 231.84h-3.5M55.4 222.26h3.5M521.5 222.26h-3.5M55.4 212.68h3.5M521.5 212.68h-3.5M55.4 203.10h5.5M521.5 203.10h-5.5M55.4 193.52h3.5M521.5 193.52h-3.5M55.4 183.94h3.5M521.5 183.94h-3.5M55.4 174.36h3.5M521.5 174.36h-3.5M55.4 164.78h3.5M521.5 164.78h-3.5M55.4 155.20h5.5M521.5 155.20h-5.5M55.4 145.62h3.5M521.5 145.62h-3.5M55.4 136.04h3.5M521.5 136.04h-3.5M55.4 126.46h3.5M521.5 126.46h-3.5M55.4 116.88h3.5M521.5 116.88h-3.5M55.4 107.30h5.5M521.5 107.30h-5.5M55.4 97.72h3.5M521.5 97.72h-3.5M55.4 88.14h3.5M521.5 88.14h-3.5M55.4 78.56h3.5M521.5 78.56h-3.5M55.4 68.98h3.5M521.5 68.98h-3.5M55.4 59.40h5.5M521.5 59.40h-5.5M55.4 49.82h3.5M521.5 49.82h-3.5M55.4 40.24h3.5M521.5 40.24h-3.5M55.4 30.66h3.5M521.5 30.66h-3.5M55.4 21.08h3.5M521.5 21.08h-3.5M55.4 11.50h5.5M521.5 11.50h-5.5" fill="none" stroke="#9a9a9a" stroke-width="0.75"/>
<rect x="55.4" y="11.5" width="466.1" height="287.4" fill="none" stroke="#9a9a9a" stroke-width="0.75"/>
<g><text x="50.9" y="303.50" text-anchor="end">0.2</text><text x="50.9" y="255.60" text-anchor="end">0.3</text><text x="50.9" y="207.70" text-anchor="end">0.4</text><text x="50.9" y="159.80" text-anchor="end">0.5</text><text x="50.9" y="111.90" text-anchor="end">0.6</text><text x="50.9" y="64.00" text-anchor="end">0.7</text><text x="50.9" y="16.10" text-anchor="end">0.8</text></g>
<g><text x="55.60" y="316" text-anchor="middle">0</text><text x="125.42" y="319.4">2<tspan dx="2.5">×</tspan><tspan dx="2.0">10</tspan><tspan dx="0.8" dy="-5.4" font-size="9.3">10</tspan></text><text x="218.64" y="319.4">4<tspan dx="2.5">×</tspan><tspan dx="2.0">10</tspan><tspan dx="0.8" dy="-5.4" font-size="9.3">10</tspan></text><text x="311.86" y="319.4">6<tspan dx="2.5">×</tspan><tspan dx="2.0">10</tspan><tspan dx="0.8" dy="-5.4" font-size="9.3">10</tspan></text><text x="405.08" y="319.4">8<tspan dx="2.5">×</tspan><tspan dx="2.0">10</tspan><tspan dx="0.8" dy="-5.4" font-size="9.3">10</tspan></text><text x="498.30" y="319.4">1<tspan dx="2.5">×</tspan><tspan dx="2.0">10</tspan><tspan dx="0.8" dy="-5.4" font-size="9.3">11</tspan></text></g>
<text x="288.3" y="345.5" text-anchor="middle">Stress at anchor point (Pa)</text>
<text transform="translate(15.1 154.9) rotate(-90)" text-anchor="middle">Maximum deflection angle (rad)</text>
<rect x="286" y="219.5" width="220" height="72.5" fill="#f2f2f2" stroke="#a8a8a8" stroke-width="2"/>
<circle cx="302.8" cy="238.3" r="4.35" fill="#fff" stroke="#5e81b5" stroke-width="3"/>
<path d="M302.9 263.1L307.8 271.3L298 271.3Z" fill="#fff" stroke="#e19c24" stroke-width="2.6"/>
<text x="316.8" y="243.5">Max angle by force</text>
<text x="316.8" y="273.5">Max angle by recovery torque</text>
</svg>
</body></html>
